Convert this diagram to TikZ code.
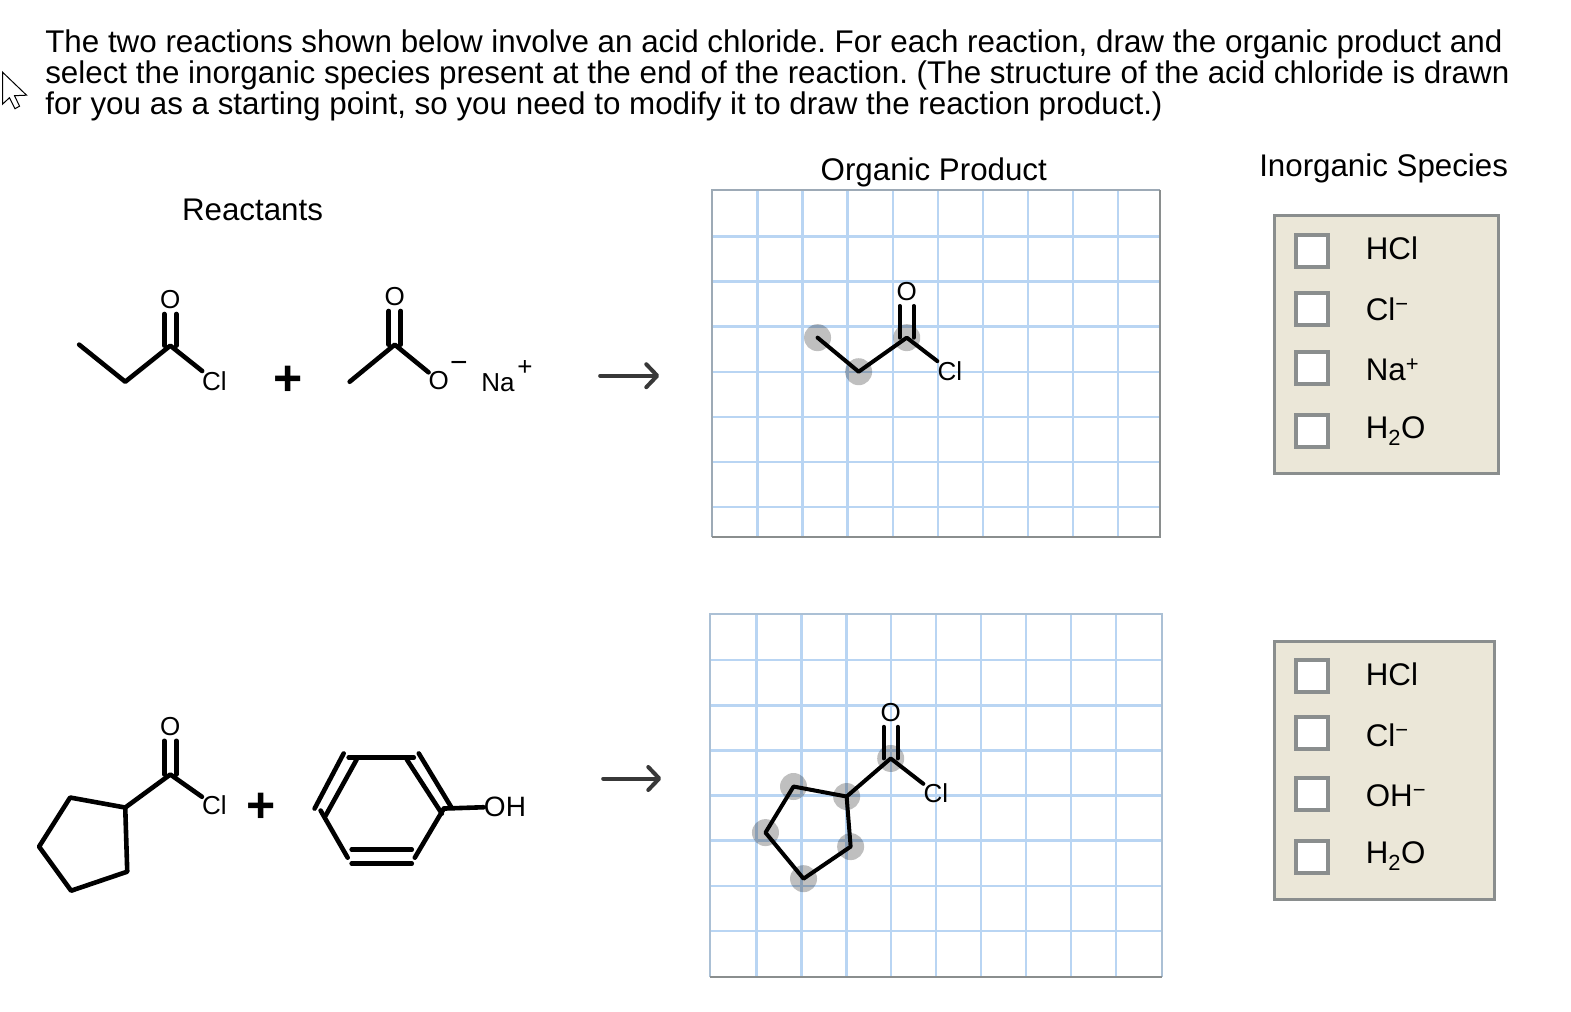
\documentclass[tikz,border=0pt]{standalone}
\usepackage{fontspec}
\setmainfont{Liberation Sans}
\frenchspacing
\usetikzlibrary{arrows.meta}
\definecolor{gridblue}{HTML}{B9D5F3}
\definecolor{framegray}{HTML}{8A8E8E}
\definecolor{panelfill}{HTML}{EBE7D8}
\tikzset{
  textline/.style={anchor=base west,inner sep=0pt,font=\fontsize{31.36}{31.36}\selectfont},
  header/.style={anchor=base,inner sep=0pt,font=\fontsize{31.3}{31.3}\selectfont},
  atom/.style={inner sep=0pt,font=\fontsize{26}{26}\selectfont},
  bond/.style={line width=4.6pt,line cap=round,line join=round,black},
  thinbond/.style={line width=4pt,line cap=round,line join=round,black},
  plussign/.style={inner sep=0pt,font=\fontsize{50}{50}\selectfont\bfseries},
  reactarrow/.style={line width=4pt,line cap=round,color=black!78,-{Straight Barb[length=11pt,width=23pt,line width=4pt,round]}},
  gridline/.style={gridblue,line width=2.3pt},
  panelbox/.style={draw=framegray,fill=panelfill,line width=3pt},
  checkbox/.style={draw=framegray,fill=white,line width=4pt,minimum size=32pt,inner sep=0pt},
  species/.style={anchor=base west,inner sep=0pt,font=\fontsize{31.3}{31.3}\selectfont},
  marker/.style={circle,fill=black,fill opacity=.25,minimum size=27pt,inner sep=0pt},
}
\begin{document}
\begin{tikzpicture}[x=1.002pt,y=-1.002pt]
\useasboundingbox (0,0) rectangle (1568,1010);

\draw[line width=1pt] (2.5,72) -- (2.5,104) -- (9.5,97.5) -- (15,108.5) -- (19.5,106) -- (14.5,95.5) -- (26.5,95) -- cycle;

\node (line01) at (45,52) [textline] {The two reactions shown below involve an acid chloride. For each reaction, draw the organic product and};
\node (line02) at (45,83) [textline] {select the inorganic species present at the end of the reaction. (The structure of the acid chloride is drawn};
\node (line03) at (45,114) [textline] {for you as a starting point, so you need to modify it to draw the reaction product.)};

\node (reactants) at (252,220) [header] {Reactants};
\node (organic) at (932,180) [header] {Organic Product};
\node (inorganic) at (1381,176) [header] {Inorganic Species};

% first row, reactants
\coordinate (ma1) at (79,344);
\coordinate (ma2) at (125,381);
\coordinate (ma3) at (170,345);
\node (maO) at (170,299) [atom] {O};
\node (maCl) at (214,380) [atom] {Cl};
\draw[bond] (ma1) -- (ma2) -- (ma3) -- (maCl);
\draw[bond] ([xshift=-6pt]ma3) -- ([xshift=-6pt,yshift=-5pt]maO.south);
\draw[bond] ([xshift=6pt]ma3) -- ([xshift=6pt,yshift=-5pt]maO.south);
\node (plusA) at (288,380) [plussign] {+};
\coordinate (mb1) at (349,381);
\coordinate (mb2) at (394,344);
\node (mbO) at (394,296) [atom] {O};
\node (mbOm) at (438,380) [atom] {O};
\node (mbMinus) at (458,366) [atom] {\fontsize{30}{30}\selectfont −};
\node (mbNa) at (497,382) [atom] {Na};
\node (mbPlus) at (524,367) [atom] {\fontsize{26}{26}\selectfont +};
\draw[bond] (mb1) -- (mb2) -- (mbOm);
\draw[bond] ([xshift=-6pt]mb2) -- ([xshift=-6pt,yshift=-5pt]mbO.south);
\draw[bond] ([xshift=6pt]mb2) -- ([xshift=6pt,yshift=-5pt]mbO.south);
\coordinate (arrowA0) at (599,375);
\coordinate (arrowA1) at (658,375);
\draw[reactarrow] (arrowA0) -- (arrowA1);

% first row, grid
\fill[white] (711,190) rectangle (1158,536);
\foreach \gx in {756,801,846,891,936,981,1026,1071,1116}
  \draw[gridline] (\gx,190) -- (\gx,536);
\foreach \gy in {236,281,326,371,416,461,506}
  \draw[gridline] (711,\gy) -- (1158,\gy);
\draw[line width=2pt,color=framegray!60!gridblue] (711,536) -- (711,190) -- (1158,190);
\draw[line width=2pt,color=framegray] (1158,190) -- (1158,536) -- (711,536);
\coordinate (pa1) at (816,337);
\coordinate (pa2) at (857,371);
\coordinate (pa3) at (905,337);
\node (paO) at (905,291) [atom] {O};
\node (paCl) at (948,370) [atom] {Cl};
\draw[thinbond] (pa1) -- (pa2) -- (pa3) -- (paCl);
\draw[thinbond] ([xshift=-7pt]pa3) -- ([xshift=-7pt,yshift=-5pt]paO.south);
\draw[thinbond] ([xshift=7pt]pa3) -- ([xshift=7pt,yshift=-5pt]paO.south);
\node (dotA1) at (pa1) [marker] {};
\node (dotA2) at (pa2) [marker] {};
\node (dotA3) at (pa3) [marker] {};

% first row, species
\draw[panelbox] (1272,215) rectangle (1496,473);
\node (boxA1) at (1309,251) [checkbox] {};
\node (boxA2) at (1309,308) [checkbox] {};
\node (boxA3) at (1309,367) [checkbox] {};
\node (boxA4) at (1309,430) [checkbox] {};
\node (spA1) at (1363,259) [species] {HCl};
\node (spA2) at (1363,320) [species] {Cl\textsuperscript{−}};
\node (spA3) at (1363,380) [species] {Na\textsuperscript{+}};
\node (spA4) at (1363,438) [species] {H\textsubscript{2}O};

% second row, reactants
\coordinate (mc1) at (125,806);
\coordinate (mc2) at (70,796);
\coordinate (mc3) at (39,845);
\coordinate (mc4) at (71,889);
\coordinate (mc5) at (127,870);
\coordinate (mc6) at (170,773);
\node (mcO) at (170,725) [atom] {O};
\node (mcCl) at (214,804) [atom] {Cl};
\draw[bond] (mc1) -- (mc2) -- (mc3) -- (mc4) -- (mc5) -- cycle;
\draw[bond] (mc1) -- (mc6) -- (mcCl);
\draw[bond] ([xshift=-6pt]mc6) -- ([xshift=-6pt,yshift=-5pt]mcO.south);
\draw[bond] ([xshift=6pt]mc6) -- ([xshift=6pt,yshift=-5pt]mcO.south);
\node (plusB) at (261,806) [plussign] {+};
\coordinate (ph1) at (348,756);
\coordinate (ph2) at (413,756);
\coordinate (ph3) at (443,807);
\coordinate (ph4) at (414,856);
\coordinate (ph5) at (347,856);
\coordinate (ph6) at (320,809);
\coordinate (ph1out) at (343,752);
\coordinate (ph6out) at (314,807);
\coordinate (ph1in) at (356,758);
\coordinate (ph6in) at (325,814);
\coordinate (ph2out) at (418,752);
\coordinate (ph3out) at (450,805);
\coordinate (ph2in) at (406,758);
\coordinate (ph3in) at (441,812);
\coordinate (ph4up) at (411,848);
\coordinate (ph5up) at (351,848);
\coordinate (ph4down) at (411,862);
\coordinate (ph5down) at (351,862);
\node (phOH) at (504,805) [atom,font=\fontsize{28}{28}\selectfont] {OH};
\draw[bond] (ph1) -- (ph2);
\draw[bond] (ph2in) -- (ph3in);
\draw[bond] (ph2out) -- (ph3out);
\draw[bond] (ph3) -- (ph4);
\draw[bond] (ph5up) -- (ph4up);
\draw[bond] (ph5down) -- (ph4down);
\draw[bond] (ph5) -- (ph6);
\draw[bond] (ph6in) -- (ph1in);
\draw[bond] (ph6out) -- (ph1out);
\draw[bond] (ph3) -- (phOH);
\coordinate (arrowB0) at (602,777);
\coordinate (arrowB1) at (660,777);
\draw[reactarrow] (arrowB0) -- (arrowB1);

% second row, grid
\fill[white] (709,613) rectangle (1160,975);
\foreach \gx in {755,800,845,889,934,979,1024,1069,1114}
  \draw[gridline] (\gx,613) -- (\gx,975);
\foreach \gy in {659,704,749,794,839,884,929}
  \draw[gridline] (709,\gy) -- (1160,\gy);
\draw[line width=2pt,color=framegray!30!gridblue] (709,975) -- (709,613) -- (1160,613) -- (1160,975);
\draw[line width=2pt,color=framegray] (709,975) -- (1160,975);
\coordinate (pb1) at (845,795);
\coordinate (pb2) at (792,785);
\coordinate (pb3) at (764,831);
\coordinate (pb4) at (802,877);
\coordinate (pb5) at (849,845);
\coordinate (pb6) at (889,757);
\node (pbO) at (889,711) [atom] {O};
\node (pbCl) at (934,792) [atom] {Cl};
\draw[thinbond] (pb1) -- (pb2) -- (pb3) -- (pb4) -- (pb5) -- cycle;
\draw[thinbond] (pb1) -- (pb6) -- (pbCl);
\draw[thinbond] ([xshift=-7pt]pb6) -- ([xshift=-7pt,yshift=-5pt]pbO.south);
\draw[thinbond] ([xshift=7pt]pb6) -- ([xshift=7pt,yshift=-5pt]pbO.south);
\node (dotB1) at (pb1) [marker] {};
\node (dotB2) at (pb2) [marker] {};
\node (dotB3) at (pb3) [marker] {};
\node (dotB4) at (pb4) [marker] {};
\node (dotB5) at (pb5) [marker] {};
\node (dotB6) at (pb6) [marker] {};

% second row, species
\draw[panelbox] (1272,640) rectangle (1492,898);
\node (boxB1) at (1309,675) [checkbox] {};
\node (boxB2) at (1309,732) [checkbox] {};
\node (boxB3) at (1309,792) [checkbox] {};
\node (boxB4) at (1309,855) [checkbox] {};
\node (spB1) at (1363,684) [species] {HCl};
\node (spB2) at (1363,745) [species] {Cl\textsuperscript{−}};
\node (spB3) at (1363,805) [species] {OH\textsuperscript{−}};
\node (spB4) at (1363,862) [species] {H\textsubscript{2}O};
\end{tikzpicture}
\end{document}
